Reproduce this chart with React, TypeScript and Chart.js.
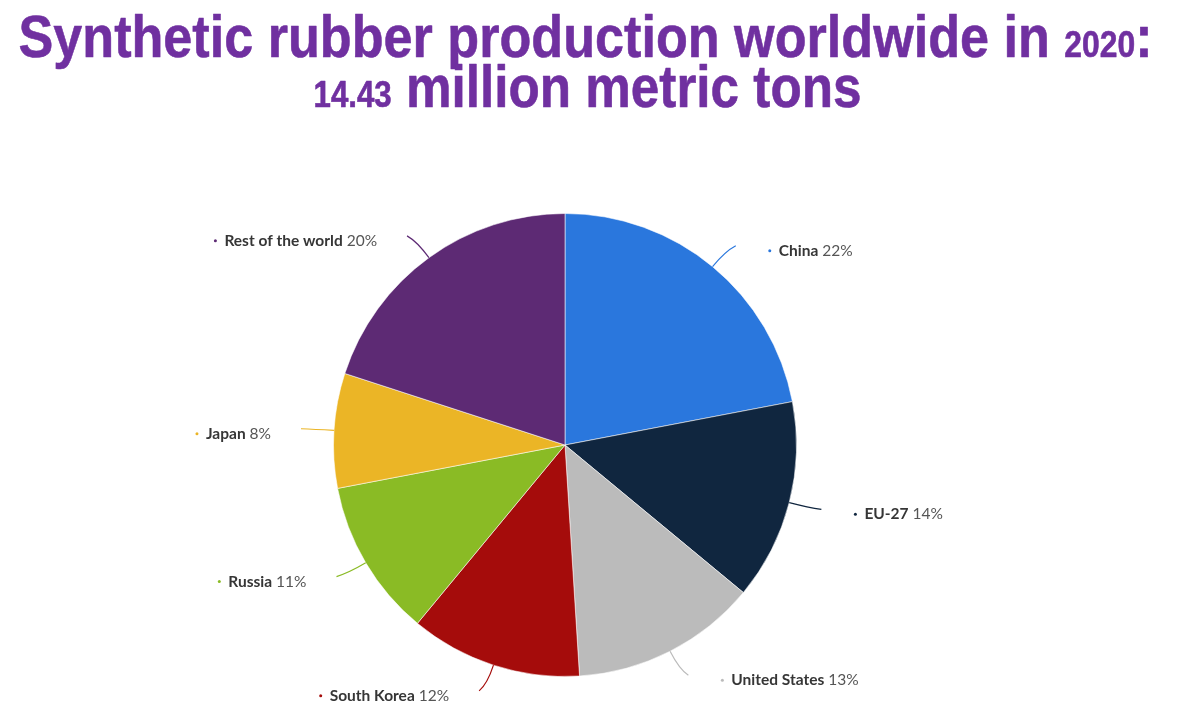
import React, { useEffect, useRef } from "react";
import { Chart, registerables } from "chart.js";

Chart.register(...registerables);

const CATEGORIES = ["China", "EU-27", "United States", "South Korea", "Russia", "Japan", "Rest of the world"];
const SHARES = [22, 14, 13, 12, 11, 8, 20];
const COLORS = ["#2a77dd", "#10263f", "#bbbbbb", "#a50c0b", "#8abb25", "#ebb526", "#5d2a74"];

const TITLE_LINE1 = [
  { t: "Synthetic rubber production worldwide in ", num: false },
  { t: "2020", num: true },
  { t: ":", num: false },
];
const TITLE_LINE2 = [
  { t: "14.43", num: true },
  { t: " million metric tons", num: false },
];

const TITLE_COLOR = "#7030a0";
const TITLE_FONT = '"Liberation Sans Narrow", "Liberation Sans", sans-serif';
const LABEL_FONT = 'Lato, "Open Sans", sans-serif';
const LABEL_SIZE = 15.5;

type Seg = { t: string; num: boolean };

function drawTitleLine(ctx: CanvasRenderingContext2D, segs: Seg[], left: number, right: number, baseline: number) {
  const big = 59;
  const small = 36;
  const fontFor = (s: Seg) => `bold ${s.num ? small : big}px ${TITLE_FONT}`;
  let w = 0;
  const widths: number[] = [];
  segs.forEach((s) => {
    ctx.font = fontFor(s);
    const m = ctx.measureText(s.t).width;
    widths.push(m);
    w += m;
  });
  const sx = (right - left - 1) / w;
  ctx.save();
  ctx.translate(left + 0.5, baseline);
  ctx.scale(sx, 1);
  ctx.fillStyle = TITLE_COLOR;
  ctx.strokeStyle = TITLE_COLOR;
  ctx.lineWidth = 0.6;
  ctx.lineJoin = "round";
  ctx.textBaseline = "alphabetic";
  ctx.textAlign = "left";
  let x = 0;
  segs.forEach((s, i) => {
    ctx.font = fontFor(s);
    ctx.fillText(s.t, x, 0);
    ctx.strokeText(s.t, x, 0);
    x += widths[i];
  });
  ctx.restore();
}

const overlayPlugin = {
  id: "overlay",
  afterDraw(chart: any) {
    const ctx: CanvasRenderingContext2D = chart.ctx;
    drawTitleLine(ctx, TITLE_LINE1, 18, 1153, 57);
    drawTitleLine(ctx, TITLE_LINE2, 313, 862, 107);

    const meta = chart.getDatasetMeta(0);
    const total = SHARES.reduce((a, b) => a + b, 0);
    meta.data.forEach((arc: any, i: number) => {
      const p = arc.getProps(["startAngle", "endAngle", "outerRadius", "x", "y"], true);
      const mid = (p.startAngle + p.endAngle) / 2;
      const dx = Math.cos(mid);
      const dy = Math.sin(mid);
      const r = p.outerRadius;
      const side = dx >= 0 ? 1 : -1;
      const sx = p.x + r * dx;
      const sy = p.y + r * dy;
      const cx = p.x + (r + 20) * dx;
      const cy = p.y + (r + 20) * dy;
      const ex = p.x + (r + 27) * dx + side * 6;
      const ey = p.y + (r + 27) * dy;
      ctx.save();
      ctx.strokeStyle = COLORS[i];
      ctx.lineWidth = 1.2;
      ctx.beginPath();
      ctx.moveTo(sx, sy);
      ctx.quadraticCurveTo(cx, cy, ex, ey);
      ctx.stroke();

      const name = CATEGORIES[i];
      const pct = " " + Math.round((SHARES[i] / total) * 100) + "%";
      ctx.font = `bold ${LABEL_SIZE}px ${LABEL_FONT}`;
      const wn = ctx.measureText(name).width;
      ctx.font = `${LABEL_SIZE}px ${LABEL_FONT}`;
      const wp = ctx.measureText(pct).width;
      const ty = ey + 5;
      let tx: number;
      if (side > 0) {
        tx = ex + 43;
      } else {
        tx = ex - 30 - wn - wp;
      }
      ctx.textBaseline = "middle";
      ctx.textAlign = "left";
      ctx.font = `bold ${LABEL_SIZE}px ${LABEL_FONT}`;
      ctx.fillStyle = "#363636";
      ctx.fillText(name, tx, ty);
      ctx.font = `${LABEL_SIZE}px ${LABEL_FONT}`;
      ctx.fillStyle = "#555555";
      ctx.fillText(pct, tx + wn, ty);
      ctx.fillStyle = COLORS[i];
      ctx.beginPath();
      ctx.arc(tx - 9, ty, 1.5, 0, Math.PI * 2);
      ctx.fill();
      ctx.restore();
    });
  },
};

export default function App() {
  const ref = useRef<HTMLCanvasElement | null>(null);
  useEffect(() => {
    if (!ref.current) return;
    const chart = new Chart(ref.current, {
      type: "pie",
      data: {
        labels: CATEGORIES,
        datasets: [
          {
            data: SHARES,
            backgroundColor: COLORS,
            borderColor: "rgba(255,255,255,0.55)",
            borderWidth: 1,
          },
        ],
      },
      options: {
        responsive: false,
        animation: false,
        layout: { padding: { left: 333, right: 403, top: 213, bottom: 49 } },
        plugins: {
          legend: { display: false },
          tooltip: { enabled: false },
          title: { display: false },
        },
      },
      plugins: [overlayPlugin],
    });
    return () => chart.destroy();
  }, []);
  return (
    <div style={{ position: "absolute", left: 0, top: 0, width: 1200, height: 726, background: "#fff" }}>
      <canvas ref={ref} width={1200} height={726} style={{ display: "block", width: 1200, height: 726 }} />
    </div>
  );
}
